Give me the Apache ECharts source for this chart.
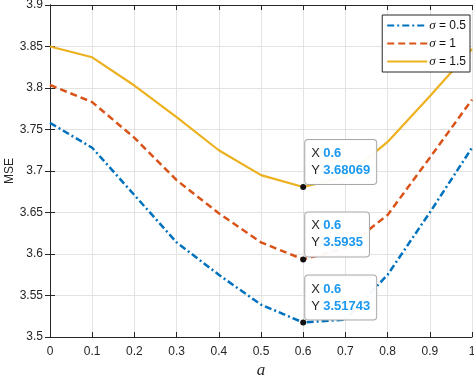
<!DOCTYPE html>
<html>
<head>
<meta charset="utf-8">
<script src="https://cdn.jsdelivr.net/npm/echarts@6/dist/echarts.min.js"></script>
<style>
html, body { margin: 0; padding: 0; background: #fff; }
#main { width: 474px; height: 377px; }
</style>
</head>
<body>
<div id="main"></div>
<script>
var chartDom = document.getElementById('main');
var myChart = echarts.init(chartDom);
var option;

// values
let aValues = [0, 0.1, 0.2, 0.3, 0.4, 0.5, 0.6, 0.7, 0.8, 0.9, 1];
let mse05 = [3.758, 3.728, 3.671, 3.614, 3.575, 3.539, 3.51743, 3.521, 3.575, 3.650, 3.728];
let mse1 = [3.8036, 3.783, 3.740, 3.689, 3.649, 3.614, 3.5935, 3.607, 3.647, 3.716, 3.786];
let mse15 = [3.850, 3.837, 3.803, 3.765, 3.725, 3.695, 3.68069, 3.693, 3.735, 3.790, 3.847];
let seriesNames = ['σ = 0.5', 'σ = 1', 'σ = 1.5'];
let tipIndex = 6;

const font = 'Liberation Sans, Arial, Helvetica, sans-serif';
const tickColor = '#262626';

function pairs(ys) {
    return aValues.map(function(x, i) { return [x, ys[i]]; });
}

function dataTip(ys, offsetY) {
    return {
        symbol: 'circle',
        symbolSize: 6,
        itemStyle: { color: '#111' },
        label: {
            show: true,
            position: [5, offsetY],
            formatter: function() {
                return '{k|X} {v|' + aValues[tipIndex] + '}\n{k|Y} {v|' + ys[tipIndex] + '}';
            },
            backgroundColor: 'rgba(255,255,255,0.95)',
            borderColor: '#a8a8a8',
            borderWidth: 1,
            borderRadius: 3,
            padding: [5, 6, 5, 6],
            rich: {
                k: { fontFamily: font, fontSize: 13, color: '#262626', lineHeight: 17 },
                v: { fontFamily: font, fontSize: 13, color: '#1a98f0', fontWeight: 'bold', lineHeight: 17 }
            }
        },
        data: [{ coord: [aValues[tipIndex], ys[tipIndex]] }],
        animation: false
    };
}

option = {
    animation: false,
    grid: { left: 50, right: 2, top: 5, bottom: 40, outerBoundsMode: 'none', containLabel: false },
    legend: {
        data: seriesNames,
        orient: 'vertical',
        right: 4,
        top: 15,
        itemWidth: 40,
        itemHeight: 12,
        itemGap: 5,
        padding: [4, 4, 4, 4],
        backgroundColor: '#fff',
        borderColor: '#262626',
        borderWidth: 1,
        borderRadius: 0,
        itemStyle: { opacity: 0 },
        formatter: function(name) {
            return '{i|σ}' + name.slice(1);
        },
        textStyle: {
            fontFamily: font,
            fontSize: 12,
            color: '#111',
            padding: [0, 0, 0, -3],
            rich: {
                i: { fontFamily: 'Liberation Serif, serif', fontStyle: 'italic', fontSize: 13, color: '#111' }
            }
        }
    },
    xAxis: [{
        type: 'value',
        min: 0,
        max: 1,
        interval: 0.1,
        name: 'a',
        nameLocation: 'middle',
        nameGap: 25,
        nameMoveOverlap: false,
        nameTextStyle: { fontFamily: 'Liberation Serif, serif', fontStyle: 'italic', fontSize: 17, color: '#262626' },
        axisLine: { lineStyle: { color: tickColor, width: 1 } },
        axisTick: { inside: true, length: 5, lineStyle: { color: tickColor } },
        axisLabel: { fontFamily: font, fontSize: 12, color: '#262626', margin: 9 },
        splitLine: { show: true, lineStyle: { color: '#e3e3e3', width: 1 } }
    }, {
        type: 'value',
        position: 'top',
        min: 0,
        max: 1,
        interval: 0.1,
        axisLine: { show: true, lineStyle: { color: tickColor, width: 1 } },
        axisTick: { show: true, inside: true, length: 5, lineStyle: { color: tickColor } },
        axisLabel: { show: false },
        splitLine: { show: false }
    }],
    yAxis: [{
        type: 'value',
        min: 3.5,
        max: 3.9,
        interval: 0.05,
        name: 'MSE',
        nameLocation: 'middle',
        nameGap: 34,
        nameMoveOverlap: false,
        nameTextStyle: { fontFamily: font, fontSize: 12, color: '#262626' },
        axisLine: { show: true, lineStyle: { color: tickColor, width: 1 } },
        axisTick: { show: true, inside: true, length: 5, lineStyle: { color: tickColor } },
        axisLabel: { fontFamily: font, fontSize: 12, color: '#262626', margin: 7 },
        splitLine: { show: true, lineStyle: { color: '#e3e3e3', width: 1 } }
    }, {
        type: 'value',
        position: 'right',
        min: 3.5,
        max: 3.9,
        interval: 0.05,
        axisLine: { show: true, lineStyle: { color: tickColor, width: 1 } },
        axisTick: { show: true, inside: true, length: 5, lineStyle: { color: tickColor } },
        axisLabel: { show: false },
        splitLine: { show: false }
    }],
    series: [{
        name: seriesNames[0],
        type: 'line',
        data: pairs(mse05),
        symbol: 'none',
        color: '#0072BD',
        lineStyle: { width: 2.5, type: [7, 3, 2, 3] },
        markPoint: dataTip(mse05, -44),
        z: 3
    }, {
        name: seriesNames[1],
        type: 'line',
        data: pairs(mse1),
        symbol: 'none',
        color: '#D95319',
        lineStyle: { width: 2.5, type: [7, 4] },
        markPoint: dataTip(mse1, -44),
        z: 3
    }, {
        name: seriesNames[2],
        type: 'line',
        data: pairs(mse15),
        symbol: 'none',
        color: '#EDB120',
        lineStyle: { width: 2.2, type: 'solid' },
        markPoint: dataTip(mse15, -44),
        z: 3
    }]
};

option && myChart.setOption(option);
</script>
</body>
</html>
